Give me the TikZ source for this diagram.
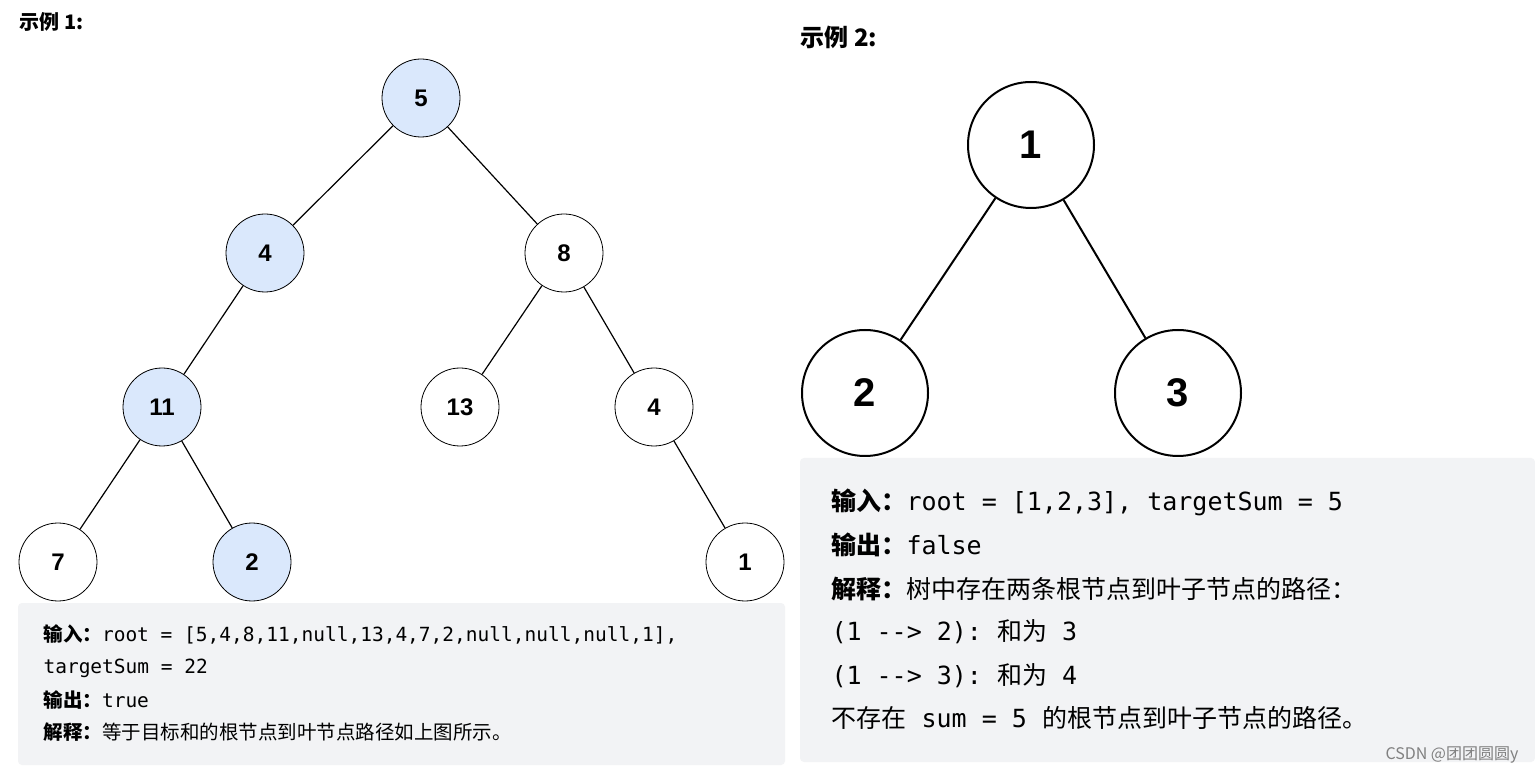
\documentclass[tikz,border=0pt]{standalone}
\usepackage{fontspec}
\setmainfont{Liberation Sans}
\setmonofont{DejaVu Sans Mono}
\newfontfamily\cjk{Noto Sans CJK SC}
\definecolor{pathblue}{HTML}{DAE8FC}
\definecolor{boxgray}{HTML}{F2F3F5}
\tikzset{
  small node/.style={circle, draw, thick, minimum size=78pt, inner sep=0pt, font=\fontsize{24}{24}\selectfont\bfseries},
  big node/.style={circle, draw, line width=2pt, minimum size=126pt, inner sep=0pt, font=\fontsize{40}{40}\selectfont\bfseries},
  edge/.style={draw, line width=1.2pt},
  textbox/.style={fill=boxgray, rounded corners=4pt},
}
\begin{document}
\begin{tikzpicture}[x=1pt,y=-1pt]
  \useasboundingbox[fill=white] (0,0) rectangle (1535,775);
  % example 1
  \node[anchor=west, font=\cjk\fontsize{20}{20}\selectfont\bfseries] (title1) at (16,22) {示例 1:};
  \node[small node, fill=pathblue] (a5) at (421,98) {5};
  \node[small node, fill=pathblue] (a4) at (265,253) {4};
  \node[small node] (a8) at (564,253) {8};
  \node[small node, fill=pathblue] (a11) at (162,407) {11};
  \node[small node] (a13) at (460,407) {13};
  \node[small node] (a4b) at (654,407) {4};
  \node[small node] (a7) at (58,562) {7};
  \node[small node, fill=pathblue] (a2) at (252,562) {2};
  \node[small node] (a1) at (745,562) {1};
  \foreach \p/\c in {a5/a4, a5/a8, a4/a11, a8/a13, a8/a4b, a11/a7, a11/a2, a4b/a1}
    \draw[edge] (\p) -- (\c);
  \fill[textbox] (18,603) rectangle (785,765);
  \begin{scope}[every node/.style={anchor=west, font=\fontsize{19.5}{19.5}\selectfont\ttfamily}]
    \node (l1) at (40,634) {{\cjk\bfseries 输入：}root = [5,4,8,11,null,13,4,7,2,null,null,null,1],};
    \node (l2) at (40,668) {targetSum = 22};
    \node (l3) at (40,700) {{\cjk\bfseries 输出：}true};
    \node (l4) at (40,732) {{\cjk\bfseries 解释：}{\cjk 等于目标和的根节点到叶节点路径如上图所示。}};
  \end{scope}
  % example 2
  \node[anchor=west, font=\cjk\fontsize{24}{24}\selectfont\bfseries] (title2) at (797,37) {示例 2:};
  \node[big node] (b1) at (1031,145) {1};
  \node[big node] (b2) at (865,393) {2};
  \node[big node] (b3) at (1178,393) {3};
  \foreach \c in {b2, b3}
    \draw[line width=2pt] (b1) -- (\c);
  \fill[textbox] (800,458) rectangle (1535,762);
  \begin{scope}[every node/.style={anchor=west, font=\fontsize{25}{25}\selectfont\ttfamily}]
    \node (r1) at (828,502) {{\cjk\bfseries 输入：}root = [1,2,3], targetSum = 5};
    \node (r2) at (828,545) {{\cjk\bfseries 输出：}false};
    \node (r3) at (828,589) {{\cjk\bfseries 解释：}{\cjk 树中存在两条根节点到叶子节点的路径：}};
    \node (r4) at (828,632) {(1 --> 2): {\cjk 和为} 3};
    \node (r5) at (828,676) {(1 --> 3): {\cjk 和为} 4};
    \node (r6) at (828,718) {{\cjk 不存在} sum = 5 {\cjk 的根节点到叶子节点的路径。}};
  \end{scope}
  \node[anchor=east, text=gray, font=\cjk\fontsize{16}{16}\selectfont] (mark) at (1522,755) {CSDN @团团圆圆y};
\end{tikzpicture}
\end{document}
